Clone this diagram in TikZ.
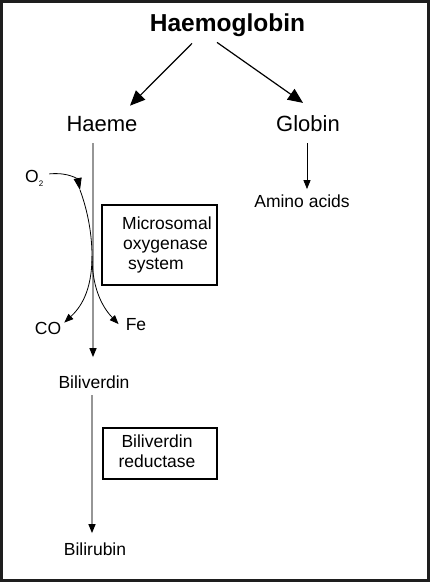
\documentclass[tikz,border=0pt]{standalone}
\usepackage{fontspec}
\setmainfont{Liberation Sans}
\usepackage{tikz}
\usetikzlibrary{arrows.meta, positioning, calc}
\usepackage{xcolor}
\definecolor{trunkgrey}{RGB}{150,150,150}
\definecolor{framegrey}{RGB}{30,30,30}
\tikzstyle{title} = [inner sep=0pt, font=\fontsize{24.5}{28}\selectfont\bfseries]
\tikzstyle{part} = [inner sep=0pt, font=\fontsize{22}{26}\selectfont]
\tikzstyle{lbl} = [inner sep=0pt, font=\fontsize{17.5}{20}\selectfont]
\tikzstyle{enzbox} = [rectangle, draw=black, line width=1.6pt, inner sep=0pt]
\tikzstyle{bigarrow} = [line width=1.2pt, -{Triangle[length=15pt,width=13pt]}]
\tikzstyle{arrow} = [line width=0.8pt, -{Triangle[length=9pt,width=7pt]}]
\tikzstyle{trunk} = [line width=1.3pt, draw=trunkgrey, -{Triangle[length=9pt,width=7pt,black]}]

\begin{document}
\begin{tikzpicture}[x=1pt, y=-1pt]
    \useasboundingbox (0,0) rectangle (430,582);
    \draw [line width=3pt, framegrey] (1.5,1.5) rectangle (428.5,580.5);

    \node (hb) [title, anchor=base] at (227.5,31.5) {Haemoglobin};
    \node (haeme) [part, anchor=base] at (102,131) {Haeme};
    \node (globin) [part, anchor=base] at (308,131) {Globin};
    \node (amino) [lbl, anchor=base] at (302,207) {Amino acids};
    \node (o2) [lbl, anchor=base west] at (25,182) {O\raisebox{-4pt}{\fontsize{8}{8}\selectfont 2}};
    \node (co) [lbl, anchor=base] at (48,334) {CO};
    \node (fe) [lbl, anchor=base] at (136,330) {Fe};
    \node (bv) [lbl, anchor=base] at (94,388) {Biliverdin};
    \node (br) [lbl, anchor=base] at (95,555) {Bilirubin};

    \node (mos) [enzbox, minimum width=115pt, minimum height=80pt] at (159.5,245) {};
    \node (mostxt) [lbl, align=left, anchor=north west] at (122,216.5) {Microsomal\\\hspace*{1pt}oxygenase\\\hspace*{6pt}system};
    \node (bvr) [enzbox, minimum width=114pt, minimum height=51pt] at (160,453.5) {};
    \node (bvrtxt) [lbl, align=center] at (157,451) {Biliverdin\\reductase};

    \coordinate (o2in) at (80,190);
    \coordinate (fork) at (92,256);

    % haemoglobin split
    \draw [bigarrow] ($(hb.south)+(-35.5,6.5)$) -- ($(haeme.north)+(28,-10)$);
    \draw [bigarrow] ($(hb.south)+(-10.5,5.5)$) -- ($(globin.north)+(-5,-12)$);
    \draw [arrow] ($(globin.south)+(-1,12)$) -- ($(globin.south |- amino.north)+(-1,-5)$);

    % haeme breakdown
    \draw [trunk] ($(haeme.south)+(-9,12)$) -- ($(haeme.south |- bv.north)+(-9,-18)$);
    \draw [trunk] ($(bv.south)+(-2,7)$) -- ($(bv.south |- br.north)+(-2,-9)$);
    \draw [arrow, -{Triangle[length=12pt,width=8pt]}] ($(o2.east)+(6,-4)$) .. controls (70,172) and (78,180) .. (o2in);
    \draw [line width=0.8pt] (o2in) .. controls (86,206) and (92,230) .. (fork);
    \draw [arrow] (fork) .. controls (92,292) and (80,308) .. ($(co.north east)+(3,1)$);
    \draw [arrow] (fork) .. controls (92,292) and (105,310) .. ($(fe.west)+(-7,0)$);
\end{tikzpicture}
\end{document}
